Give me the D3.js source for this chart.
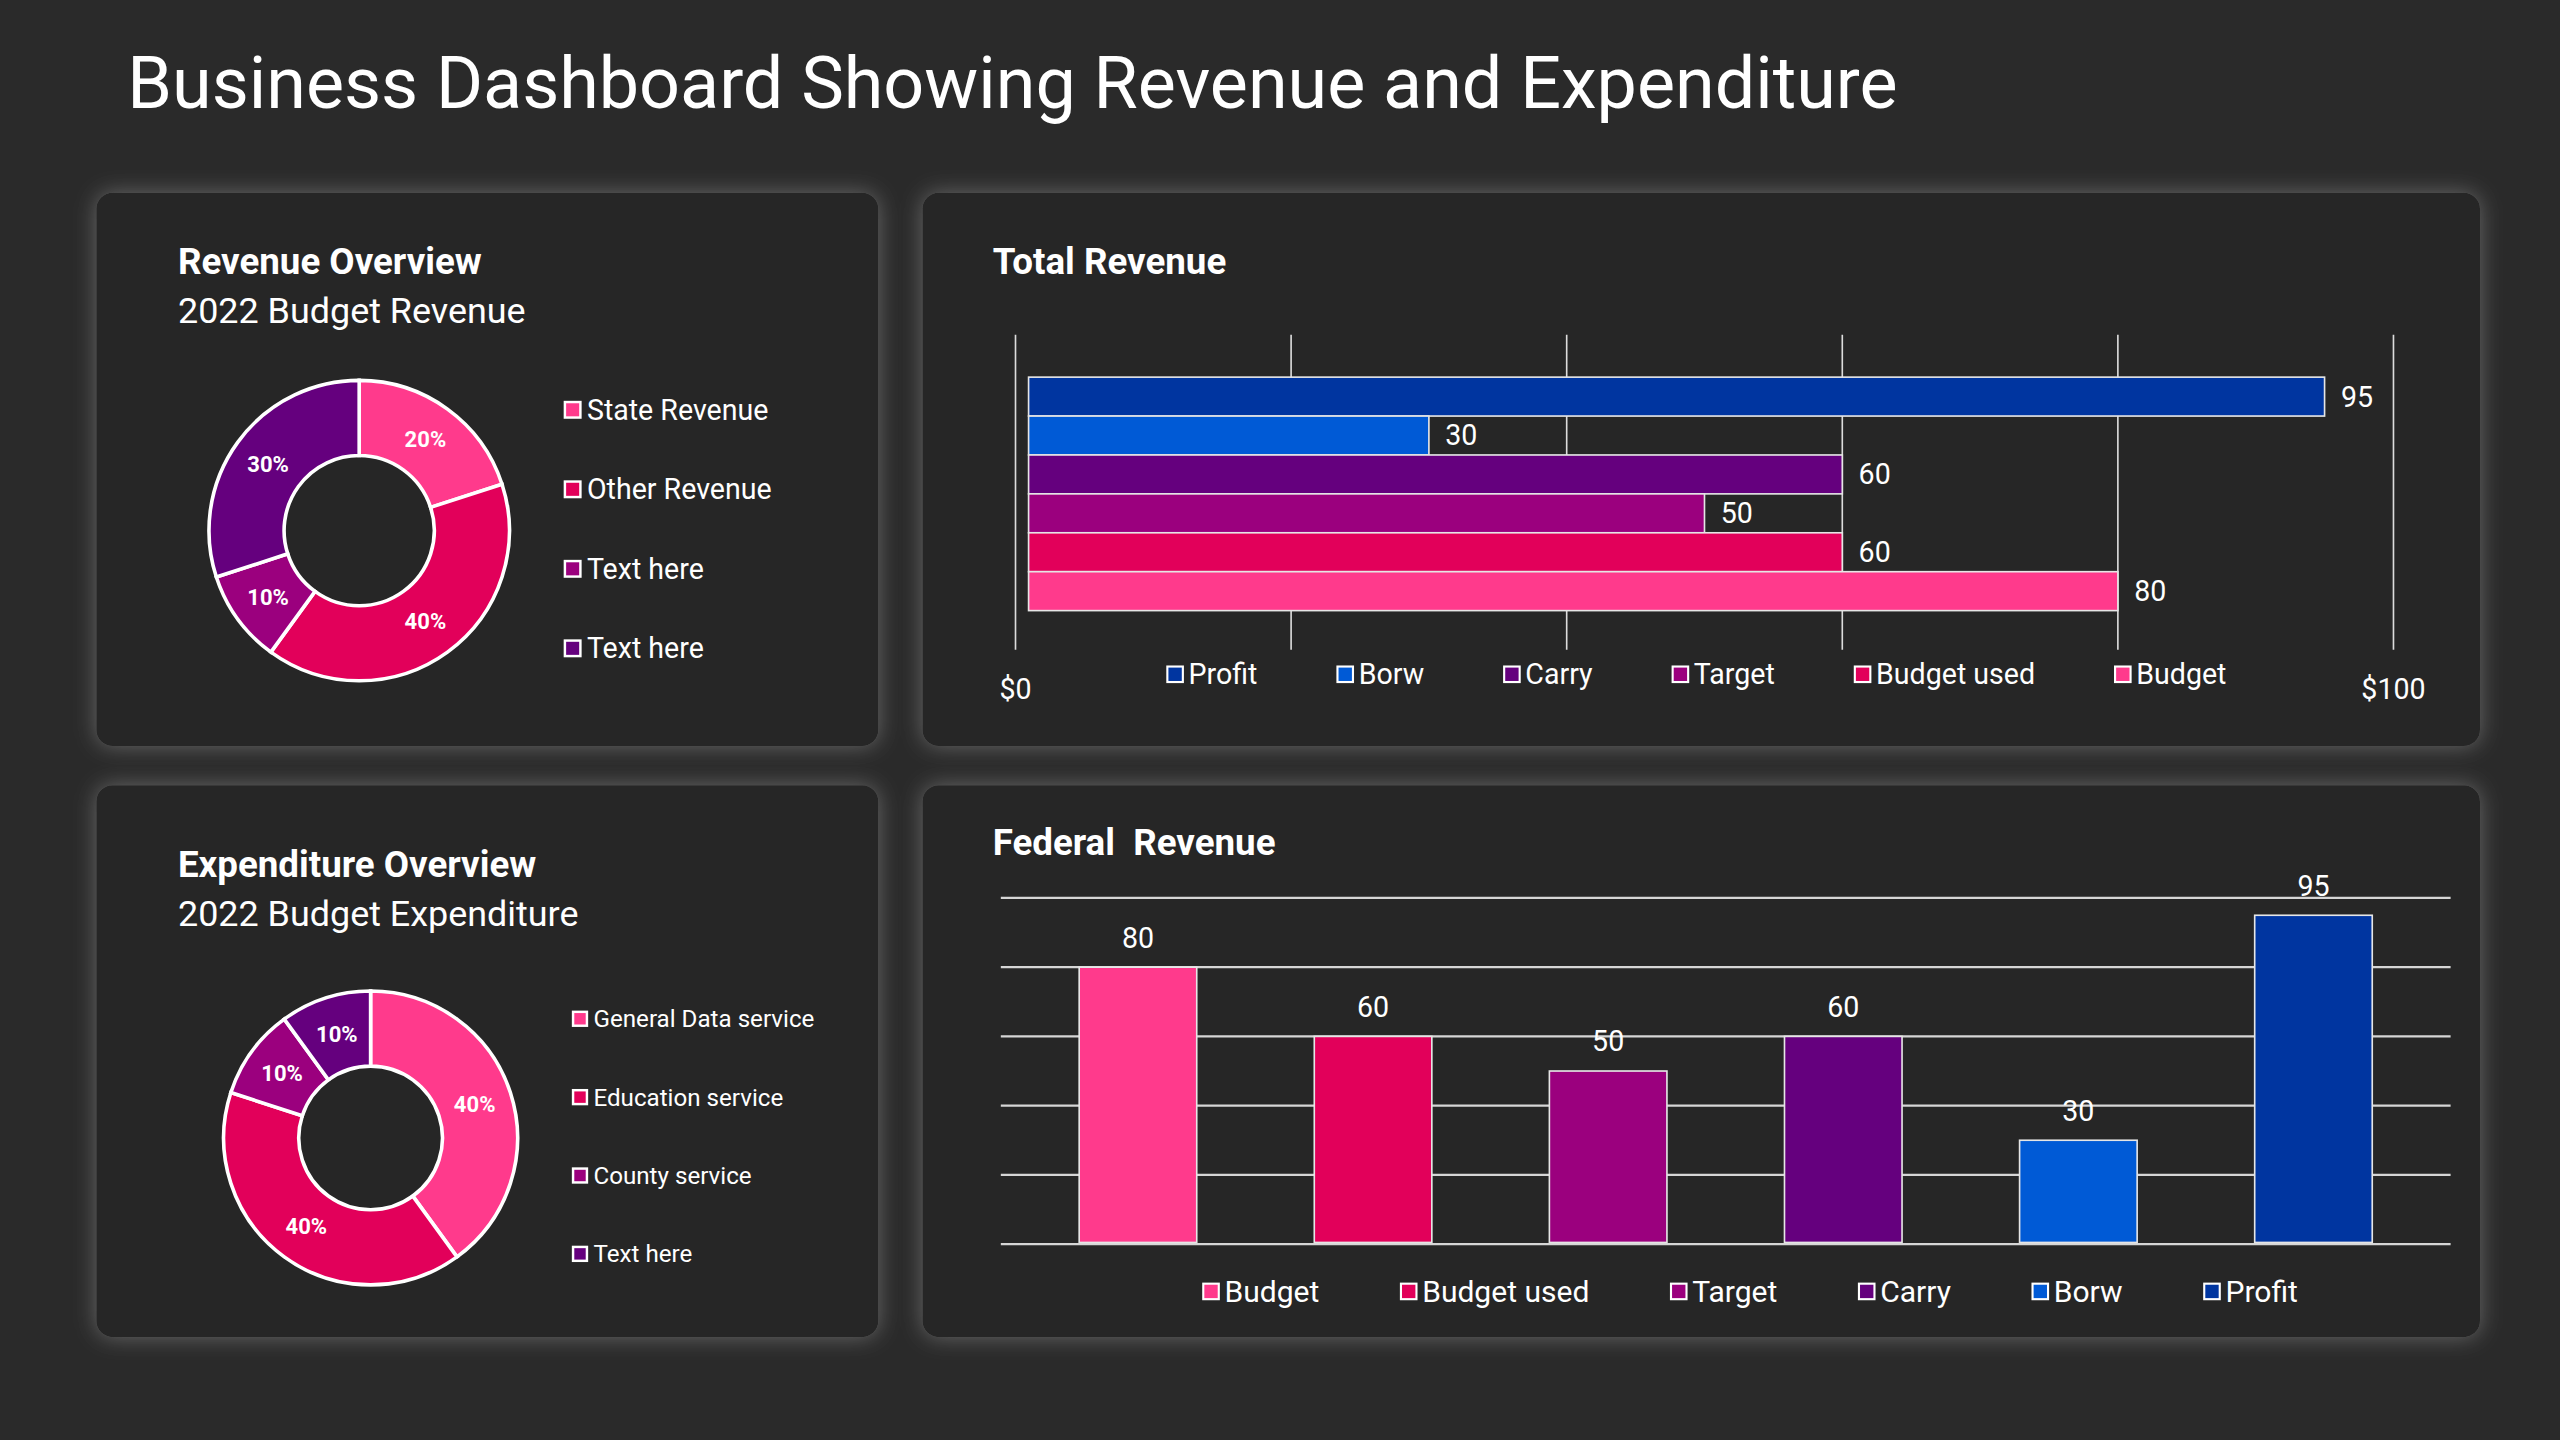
<!DOCTYPE html>
<html>
<head>
<meta charset="utf-8">
<script src="https://cdn.jsdelivr.net/npm/d3@7"></script>
<style>
  html, body { margin: 0; padding: 0; background: #2a2a2a; }
  svg { display: block; font-family: Roboto, "Noto Sans", sans-serif; }
</style>
</head>
<body>
<script>
// data
var revenueLabels = ["State Revenue", "Other Revenue", "Text here", "Text here"];
var revenueShares = [20, 40, 10, 30];
var expenseLabels = ["General Data service", "Education service", "County service", "Text here"];
var expenseShares = [40, 40, 10, 10];

var totalCats = ["Profit", "Borw", "Carry", "Target", "Budget used", "Budget"];
var totalValues = [95, 30, 60, 50, 60, 80];

var federalCats = ["Budget", "Budget used", "Target", "Carry", "Borw", "Profit"];
var federalValues = [80, 60, 50, 60, 30, 95];

var pieColors = ["#ff3a8c", "#e2005a", "#9b007e", "#65007e"];
var catColor = {
  "Budget": "#ff3a8c", "Budget used": "#e2005a", "Target": "#9b007e",
  "Carry": "#65007e", "Borw": "#005ad6", "Profit": "#0035a0"
};

// the layout is worked out on a 1568x882 grid and scaled up to the window
var W = 1568, H = 882;
var svg = d3.select("body").append("svg")
  .attr("width", 2560).attr("height", 1440)
  .attr("viewBox", "0 0 " + W + " " + H);

var defs = svg.append("defs");
var glow = defs.append("filter").attr("id", "glow")
  .attr("x", "-10%").attr("y", "-10%").attr("width", "120%").attr("height", "120%");
glow.append("feFlood").attr("flood-color", "#9a9a9a").attr("flood-opacity", 0.55);
glow.append("feComposite").attr("in2", "SourceAlpha").attr("operator", "in");
glow.append("feGaussianBlur").attr("stdDeviation", 7).attr("result", "blur");
var fm = glow.append("feMerge");
fm.append("feMergeNode").attr("in", "blur");
fm.append("feMergeNode").attr("in", "SourceGraphic");

svg.append("rect").attr("width", W).attr("height", H).attr("fill", "#2a2a2a");

svg.append("text").attr("x", 78).attr("y", 66)
  .attr("fill", "#fff").attr("font-size", 44)
  .text("Business Dashboard Showing Revenue and Expenditure");

var panels = [[59, 118, 479, 339], [565, 118, 954, 339], [59, 481, 479, 338], [565, 481, 954, 338]];
svg.selectAll("rect.panel").data(panels).enter().append("rect")
  .attr("class", "panel")
  .attr("x", function(d) { return d[0]; }).attr("y", function(d) { return d[1]; })
  .attr("width", function(d) { return d[2]; }).attr("height", function(d) { return d[3]; })
  .attr("rx", 10).attr("fill", "#262626").attr("filter", "url(#glow)");

function heading(x, y, bold, size, txt) {
  svg.append("text").attr("x", x).attr("y", y).attr("fill", "#fff")
    .attr("font-size", size).attr("font-weight", bold ? 700 : 400).text(txt);
}
heading(109, 168, true, 22.5, "Revenue Overview");
heading(109, 198, false, 22, "2022 Budget Revenue");
heading(608, 168, true, 22.5, "Total Revenue");
heading(109, 537, true, 22.5, "Expenditure Overview");
heading(109, 567, false, 22, "2022 Budget Expenditure");
heading(608, 524, true, 22.5, "Federal\u00a0 Revenue");

// donuts
function donut(cx, cy, rOut, rIn, values, labels, legX, legY0, legStep, legSize, box) {
  var g = svg.append("g").attr("transform", "translate(" + cx + "," + cy + ")");
  var pie = d3.pie().sort(null)(values);
  var arc = d3.arc().innerRadius(rIn).outerRadius(rOut);
  g.selectAll("path").data(pie).enter().append("path")
    .attr("d", arc)
    .attr("fill", function(d, i) { return pieColors[i]; })
    .attr("stroke", "#fff").attr("stroke-width", 2.2);
  g.selectAll("text").data(pie).enter().append("text")
    .attr("transform", function(d) { return "translate(" + arc.centroid(d) + ")"; })
    .attr("text-anchor", "middle").attr("dy", "0.35em")
    .attr("fill", "#fff").attr("font-size", 13.5).attr("font-weight", 700)
    .text(function(d) { return d.data + "%"; });

  var leg = svg.append("g").selectAll("g").data(labels).enter().append("g")
    .attr("transform", function(d, i) { return "translate(" + legX + "," + (legY0 + i * legStep) + ")"; });
  leg.append("rect").attr("x", 0).attr("y", -box / 2).attr("width", box).attr("height", box)
    .attr("fill", function(d, i) { return pieColors[i]; })
    .attr("stroke", "#fff").attr("stroke-width", 1.5);
  leg.append("text").attr("x", box + 4).attr("dy", "0.35em")
    .attr("fill", "#fff").attr("font-size", legSize).text(function(d) { return d; });
}
donut(220, 325, 92, 46, revenueShares, revenueLabels, 346, 251, 48.7, 17.5, 9.5);
donut(227, 697, 90, 44, expenseShares, expenseLabels, 351, 624, 48, 14.8, 8.5);

// legend laid out in a row, gap measured after each label
function rowLegend(x0, y, cats, size, gap) {
  var x = x0;
  var g = svg.append("g");
  cats.forEach(function(c) {
    g.append("rect").attr("x", x).attr("y", y - 4.75).attr("width", 9.5).attr("height", 9.5)
      .attr("fill", catColor[c]).attr("stroke", "#fff").attr("stroke-width", 1.3);
    var t = g.append("text").attr("x", x + 13).attr("y", y).attr("dy", "0.35em")
      .attr("fill", "#fff").attr("font-size", size).text(c);
    x += 13 + t.node().getComputedTextLength() + gap;
  });
}

// total revenue: horizontal bars
var xT = d3.scaleLinear().domain([0, 100]).range([622, 1466]);
var yT = d3.scaleBand().domain(totalCats).range([231, 374]).padding(0);
var gT = svg.append("g");
gT.selectAll("line.grid").data(xT.ticks(5)).enter().append("line")
  .attr("x1", xT).attr("x2", xT).attr("y1", 205).attr("y2", 398)
  .attr("stroke", "#dcdcdc").attr("stroke-width", 1);
gT.selectAll("rect").data(totalCats).enter().append("rect")
  .attr("x", xT(0) + 8)
  .attr("y", function(d) { return yT(d); })
  .attr("width", function(d, i) { return xT(totalValues[i]) - xT(0) - 8; })
  .attr("height", yT.bandwidth())
  .attr("fill", function(d) { return catColor[d]; })
  .attr("stroke", "#e6e6e6").attr("stroke-width", 1);
gT.selectAll("text.val").data(totalCats).enter().append("text")
  .attr("x", function(d, i) { return xT(totalValues[i]) + 10; })
  .attr("y", function(d) { return yT(d) + yT.bandwidth() / 2; })
  .attr("dy", "0.35em").attr("fill", "#fff").attr("font-size", 17.5)
  .text(function(d, i) { return totalValues[i]; });
gT.selectAll("text.ax").data([0, 100]).enter().append("text")
  .attr("x", xT).attr("y", 422).attr("dy", "0.35em")
  .attr("text-anchor", "middle").attr("fill", "#fff").attr("font-size", 17.5)
  .text(function(d) { return "$" + d; });
rowLegend(715, 413, totalCats, 17.5, 49);

// federal revenue: vertical bars
var xF = d3.scaleBand().domain(federalCats).range([613, 1501]).paddingInner(0.5).paddingOuter(1 / 3);
var yF = d3.scaleLinear().domain([0, 100]).range([762, 550]);
var gF = svg.append("g");
gF.selectAll("line.grid").data(yF.ticks(5)).enter().append("line")
  .attr("x1", 613).attr("x2", 1501).attr("y1", yF).attr("y2", yF)
  .attr("stroke", "#d6d6d6").attr("stroke-width", 1.4);
gF.selectAll("rect").data(federalCats).enter().append("rect")
  .attr("x", function(d) { return xF(d); })
  .attr("y", function(d, i) { return yF(federalValues[i]); })
  .attr("width", xF.bandwidth())
  .attr("height", function(d, i) { return yF(0) - yF(federalValues[i]) - 1; })
  .attr("fill", function(d) { return catColor[d]; })
  .attr("stroke", "#e6e6e6").attr("stroke-width", 1);
gF.selectAll("text.val").data(federalCats).enter().append("text")
  .attr("x", function(d) { return xF(d) + xF.bandwidth() / 2; })
  .attr("y", function(d, i) { return yF(federalValues[i]) - 12; })
  .attr("text-anchor", "middle").attr("fill", "#fff").attr("font-size", 17.5)
  .text(function(d, i) { return federalValues[i]; });
rowLegend(737, 791, federalCats, 18.4, 50);
</script>
</body>
</html>
